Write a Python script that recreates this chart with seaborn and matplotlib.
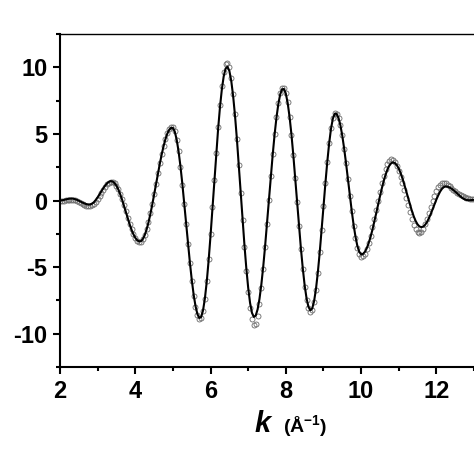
import numpy as np
import pandas as pd
import matplotlib
matplotlib.use('Agg')
import matplotlib.pyplot as plt
from matplotlib.ticker import MultipleLocator
import seaborn as sns

# k grid: 2.00 .. 13.00 in steps of 0.05 (1/Angstrom)
k_start = 2.0
k_step = 0.05

# fitted curve (solid line)
chi_fit = [
    0.00, 0.01, 0.04, 0.08, 0.11, 0.14, 0.15, 0.14, 0.10, 0.05,
    -0.02, -0.09, -0.16, -0.22, -0.27, -0.30, -0.30, -0.24, -0.13, 0.04,
    0.24, 0.46, 0.70, 0.92, 1.12, 1.29, 1.40, 1.46, 1.42, 1.31,
    1.11, 0.83, 0.47, 0.06, -0.40, -0.87, -1.34, -1.78, -2.19, -2.53,
    -2.80, -2.98, -3.07, -3.05, -2.90, -2.61, -2.19, -1.66, -1.03, -0.33,
    0.42, 1.20, 1.98, 2.73, 3.43, 4.06, 4.59, 5.01, 5.30, 5.45,
    5.45, 5.17, 4.57, 3.70, 2.58, 1.27, -0.17, -1.68, -3.19, -4.62,
    -5.93, -7.05, -7.92, -8.52, -8.82, -8.75, -8.26, -7.35, -6.07, -4.46,
    -2.62, -0.62, 1.43, 3.45, 5.33, 6.99, 8.34, 9.33, 9.91, 10.04,
    9.73, 8.99, 7.85, 6.37, 4.62, 2.68, 0.65, -1.38, -3.32, -5.07,
    -6.55, -7.69, -8.43, -8.74, -8.64, -8.18, -7.39, -6.30, -4.96, -3.41,
    -1.74, 0.00, 1.73, 3.39, 4.90, 6.19, 7.22, 7.96, 8.35, 8.37,
    8.03, 7.31, 6.27, 4.94, 3.38, 1.68, -0.10, -1.88, -3.57, -5.07,
    -6.36, -7.33, -7.97, -8.24, -8.12, -7.58, -6.67, -5.42, -3.92, -2.25,
    -0.50, 1.24, 2.85, 4.26, 5.38, 6.15, 6.52, 6.50, 6.20, 5.65,
    4.87, 3.90, 2.80, 1.61, 0.41, -0.75, -1.81, -2.70, -3.40, -3.85,
    -4.04, -4.01, -3.86, -3.59, -3.21, -2.75, -2.21, -1.61, -0.98, -0.34,
    0.30, 0.90, 1.46, 1.93, 2.33, 2.62, 2.80, 2.86, 2.81, 2.65,
    2.40, 2.06, 1.65, 1.18, 0.68, 0.18, -0.32, -0.79, -1.20, -1.54,
    -1.79, -1.95, -2.00, -1.96, -1.83, -1.62, -1.34, -1.02, -0.66, -0.29,
    0.07, 0.39, 0.67, 0.88, 1.01, 1.05, 1.03, 0.98, 0.90, 0.79,
    0.67, 0.54, 0.40, 0.28, 0.17, 0.09, 0.04, 0.02, 0.02, 0.04,
    0.05,
]

# experimental data (open circles)
chi_exp = [
    -0.02, -0.01, 0.00, 0.03, 0.05, 0.07, 0.07, 0.05, 0.01, -0.05,
    -0.12, -0.20, -0.28, -0.35, -0.40, -0.43, -0.42, -0.36, -0.24, -0.08,
    0.12, 0.35, 0.58, 0.82, 1.03, 1.21, 1.33, 1.40, 1.38, 1.30,
    1.12, 0.86, 0.52, 0.12, -0.32, -0.80, -1.28, -1.74, -2.16, -2.52,
    -2.82, -3.03, -3.12, -3.08, -2.92, -2.60, -2.15, -1.60, -0.96, -0.26,
    0.50, 1.27, 2.05, 2.79, 3.48, 4.10, 4.63, 5.05, 5.36, 5.52,
    5.50, 5.20, 4.56, 3.68, 2.52, 1.20, -0.25, -1.78, -3.30, -4.72,
    -6.02, -7.15, -8.02, -8.62, -8.90, -8.82, -8.30, -7.36, -6.05, -4.42,
    -2.55, -0.52, 1.55, 3.60, 5.50, 7.18, 8.58, 9.62, 10.22, 10.35,
    10.00, 9.20, 8.00, 6.46, 4.65, 2.66, 0.58, -1.50, -3.50, -5.30,
    -6.85, -8.05, -8.90, -9.32, -9.25, -8.70, -7.80, -6.60, -5.15, -3.50,
    -1.75, 0.05, 1.82, 3.50, 5.00, 6.30, 7.32, 8.05, 8.45, 8.46,
    8.10, 7.36, 6.30, 4.95, 3.38, 1.66, -0.14, -1.94, -3.65, -5.17,
    -6.47, -7.45, -8.08, -8.34, -8.20, -7.63, -6.70, -5.43, -3.90, -2.22,
    -0.44, 1.30, 2.92, 4.33, 5.44, 6.20, 6.56, 6.53, 6.22, 5.66,
    4.88, 3.90, 2.78, 1.58, 0.36, -0.82, -1.90, -2.82, -3.55, -4.03,
    -4.24, -4.20, -3.98, -3.64, -3.18, -2.63, -2.02, -1.36, -0.68, 0.00,
    0.66, 1.30, 1.86, 2.35, 2.74, 3.00, 3.10, 3.05, 2.88, 2.60,
    2.24, 1.80, 1.30, 0.76, 0.20, -0.36, -0.90, -1.40, -1.82, -2.15,
    -2.36, -2.42, -2.34, -2.12, -1.80, -1.40, -0.96, -0.50, -0.06, 0.34,
    0.70, 0.98, 1.18, 1.30, 1.34, 1.30, 1.20, 1.06, 0.92, 0.80,
    0.68, 0.58, 0.48, 0.40, 0.32, 0.26, 0.22, 0.18, 0.15, 0.12,
    0.10,
]

x_ticks = [2, 4, 6, 8, 10, 12]
y_ticks = [-10, -5, 0, 5, 10]

k = k_start + k_step * np.arange(len(chi_fit))
df = pd.DataFrame({'k': k, 'fit': chi_fit, 'exp': chi_exp})

sns.set_style('ticks', {'axes.edgecolor': 'black', 'xtick.color': 'black',
                        'ytick.color': 'black', 'text.color': 'black',
                        'axes.labelcolor': 'black'})
plt.rcParams['font.family'] = ['Liberation Sans', 'DejaVu Sans']
plt.rcParams['axes.unicode_minus'] = False
plt.rcParams['mathtext.fontset'] = 'custom'
plt.rcParams['mathtext.rm'] = 'Liberation Sans:bold'
plt.rcParams['mathtext.it'] = 'Liberation Sans:bold:italic'
plt.rcParams['mathtext.bf'] = 'Liberation Sans:bold'

fig = plt.figure(figsize=(4.74, 4.74), dpi=100)
ax = fig.add_axes([60 / 474, 1 - 367 / 474, 414 / 474, 333 / 474])

# data as open circles, fit as black line on top
sns.lineplot(data=df, x='k', y='exp', ax=ax, linestyle='', marker='o',
             markersize=3.6, markerfacecolor='none', markeredgecolor='#6a6a6a',
             markeredgewidth=0.6, errorbar=None, sort=False)
sns.lineplot(data=df, x='k', y='fit', ax=ax, color='black', linewidth=1.5,
             errorbar=None, sort=False)

ax.set_xlim(2, 13)
ax.set_ylim(-12.5, 12.5)
ax.set_xticks(x_ticks)
ax.set_yticks(y_ticks)
ax.xaxis.set_minor_locator(MultipleLocator(1))
ax.yaxis.set_minor_locator(MultipleLocator(2.5))
ax.tick_params(which='major', direction='out', length=5, width=1.5,
               labelsize=17, pad=4, top=False, right=False,
               colors='black')
ax.tick_params(which='minor', direction='out', length=3, width=1.5,
               top=False, right=False, colors='black')
for lab in ax.get_xticklabels() + ax.get_yticklabels():
    lab.set_fontweight('bold')

ax.spines['right'].set_visible(False)
ax.spines['top'].set_linewidth(1.0)
ax.spines['left'].set_linewidth(1.5)
ax.spines['bottom'].set_linewidth(1.5)
ax.set_xlabel('')
ax.set_ylabel('')

fig.text(263 / 474, 1 - 432 / 474, 'k', fontsize=21, fontweight='bold',
         fontstyle='italic', ha='center', va='baseline', color='black')
fig.text(283 / 474, 1 - 432 / 474, r'(Å$^{-1}$)', fontsize=14,
         fontweight='bold', ha='left', va='baseline', color='black')

fig.savefig('out.png', dpi=100, facecolor='white')
